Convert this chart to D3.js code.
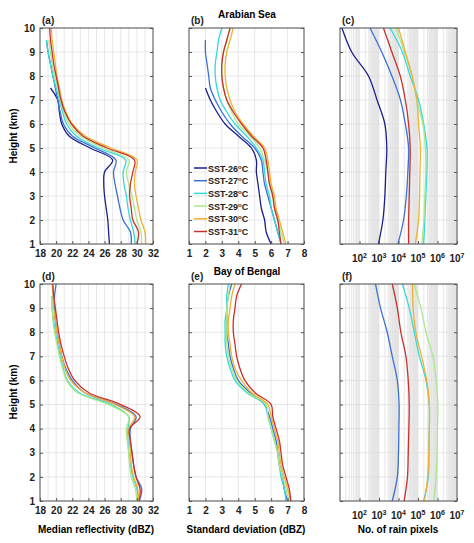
<!DOCTYPE html>
<html><head><meta charset="utf-8">
<script src="https://cdn.jsdelivr.net/npm/d3@7"></script>
<style>body{margin:0;background:#fff}text{font-family:Arial,"Liberation Sans",sans-serif;font-weight:bold}</style>
</head><body><div id="chart"></div>
<script>
var H = [1,1.5,2,2.5,3,3.5,4,4.5,5,5.5,6,6.5,7,7.5,8,8.5,9,9.5,10];
var Hn = [1,2,3,4,5,6,7,8,9,10];
var ssts = ['26','27','28','29','30','31'];
var colors = ['#1c1f8a','#3b70d4','#35d8d8','#a9e98c','#efb133','#c9302c'];

// Arabian Sea, median reflectivity (dBZ), at H (null = no data)
var asMed = [
  [26.6,26.5,26.4,26.2,26.0,25.9,26.0,27.0,24.2,21.6,20.7,20.4,20.2,19.3,null,null,null,null,null],
  [29.3,29.2,28.3,27.9,27.6,27.3,27.1,27.4,24.8,22.0,20.9,20.5,20.2,19.9,19.6,19.3,19.0,18.8,null],
  [29.8,29.6,29.2,28.9,28.7,28.4,28.3,28.6,25.2,22.5,21.3,20.8,20.4,20.0,19.6,19.3,19.0,18.8,null],
  [30.6,30.5,30.0,29.7,29.4,29.0,28.7,29.0,25.8,23.0,21.6,21.0,20.5,20.2,19.8,19.5,19.3,19.1,null],
  [31.1,31.0,30.5,30.2,29.9,29.7,29.8,30.0,26.8,23.6,22.0,21.2,20.7,20.4,20.1,19.9,19.7,19.5,19.4],
  [30.0,30.2,29.5,29.3,29.1,29.2,29.5,29.7,26.3,23.3,21.9,21.1,20.6,20.3,20.0,19.7,19.5,19.3,19.2]
];
var asStd = [
  [6.0,5.7,5.6,5.4,5.3,5.2,5.1,5.1,4.8,4.0,3.2,2.7,2.3,2.0,null,null,null,null,null],
  [6.6,6.4,6.2,6.0,5.8,5.6,5.5,5.4,5.0,4.2,3.5,3.0,2.6,2.3,2.2,2.1,2.0,2.0,null],
  [6.6,6.4,6.2,6.0,5.9,5.7,5.6,5.5,5.1,4.5,3.8,3.3,2.9,2.7,2.6,2.6,2.7,2.8,3.0],
  [6.8,6.6,6.4,6.2,6.1,5.9,5.8,5.6,5.3,4.7,4.0,3.6,3.3,3.1,3.0,3.0,3.1,3.3,3.5],
  [6.9,6.7,6.5,6.3,6.2,6.0,5.9,5.8,5.6,4.9,4.3,3.8,3.5,3.3,3.2,3.2,3.3,3.5,3.7],
  [6.6,6.5,6.4,6.2,6.1,5.9,5.8,5.7,5.5,4.8,4.2,3.7,3.3,3.1,3.0,3.0,3.1,3.3,3.5]
];
// log10(number of rain pixels) at Hn
var asLogN = [
  [2.97,3.2,3.3,3.35,3.4,3.3,2.9,2.46,1.6,1.1],
  [3.97,4.26,4.4,4.48,4.52,4.35,4.1,3.66,3.14,2.54],
  [5.29,5.35,5.4,5.45,5.46,5.29,5.03,4.6,4.2,3.57],
  [5.2,5.3,5.35,5.4,5.38,5.25,4.94,4.7,4.3,3.88],
  [4.86,5.03,5.08,5.1,5.12,5.03,4.94,4.7,4.35,4.0],
  [4.52,4.52,4.55,4.58,4.6,4.52,4.35,4.09,3.66,3.23]
];

// Bay of Bengal (no SST-26 curve)
var bbMed = [
  null,
  [30.3,30.6,29.9,29.6,29.4,29.2,29.2,29.9,27.5,23.5,22.0,21.2,20.7,20.4,20.1,19.9,19.8,19.8,20.0],
  [30.2,30.0,29.5,29.2,29.0,28.9,28.9,29.0,26.8,22.8,21.4,20.9,20.5,20.2,19.9,19.7,19.5,19.5,null],
  [30.0,29.8,29.3,29.1,29.0,28.8,28.7,29.0,26.5,22.6,21.3,20.8,20.4,20.1,19.8,19.6,19.5,19.4,null],
  [30.2,30.1,29.6,29.3,29.2,29.1,29.0,29.7,27.3,23.5,21.8,21.1,20.7,20.4,20.1,19.9,19.7,19.6,19.5],
  [30.3,30.4,29.9,29.6,29.4,29.2,29.1,30.4,28.0,24.0,22.3,21.5,21.0,20.6,20.3,20.1,19.9,19.7,19.6]
];
var bbStd = [
  null,
  [7.0,6.8,6.7,6.5,6.4,6.3,6.1,5.9,5.6,4.7,4.0,3.7,3.5,3.4,3.3,3.3,3.3,3.4,3.6],
  [6.9,6.8,6.6,6.5,6.4,6.2,6.0,5.8,5.6,4.5,3.8,3.5,3.3,3.2,3.2,3.2,3.3,3.3,3.4],
  [7.1,6.9,6.7,6.5,6.4,6.2,6.0,5.8,5.7,4.6,3.9,3.6,3.4,3.3,3.3,3.3,3.3,3.4,3.5],
  [7.2,7.0,6.8,6.6,6.5,6.4,6.2,6.0,5.8,4.8,4.2,3.8,3.6,3.5,3.4,3.4,3.5,3.6,3.8],
  [7.2,7.1,6.9,6.7,6.6,6.5,6.3,6.1,6.0,5.0,4.4,4.1,3.9,3.8,3.7,3.7,3.8,3.9,4.2]
];
var bbLogN = [
  null,
  [3.68,3.94,4.0,4.02,4.03,3.94,3.68,3.42,3.08,2.82],
  [5.29,5.53,5.56,5.58,5.58,5.41,5.07,4.81,4.55,4.2],
  [5.81,5.93,5.98,6.0,6.02,5.93,5.76,5.41,5.15,4.8],
  [5.33,5.5,5.55,5.58,5.58,5.45,5.18,4.89,4.75,4.72],
  [4.29,4.46,4.5,4.53,4.55,4.5,4.38,4.12,3.94,3.68]
];

var W = 474, Ht = 543;
var svg = d3.select('#chart').append('svg').attr('width', W).attr('height', Ht);

var cols = [{x0:40, x1:153}, {x0:189, x1:304}, {x0:340, x1:457}];
var rows = [{y0:28, y1:244}, {y0:284, y1:501}];

function panel(ci, ri, kind, data, hs, label) {
  var c = cols[ci], r = rows[ri];
  var y = d3.scaleLinear().domain([1,10]).range([r.y1, r.y0]);
  var x;
  if (kind == 'med') x = d3.scaleLinear().domain([18,32]).range([c.x0, c.x1]);
  else if (kind == 'std') x = d3.scaleLinear().domain([1,8]).range([c.x0, c.x1]);
  else x = d3.scaleLog().domain([10,1e7]).range([c.x0, c.x1]);
  var g = svg.append('g');

  // grey bands in the log panels (upper half of each decade)
  if (kind == 'log') {
    g.selectAll('.band').data([2,3,4,5,6]).enter().append('rect')
      .attr('x', d => x(Math.pow(10, d + 0.5))).attr('y', r.y0)
      .attr('width', d => x(Math.pow(10, d + 1)) - x(Math.pow(10, d + 0.5)))
      .attr('height', r.y1 - r.y0).attr('fill', '#efefef');
  }

  // grid
  var xg;
  if (kind == 'log') xg = x.ticks();
  else if (kind == 'med') xg = d3.range(18,33,1);
  else xg = d3.range(1,9,1);
  g.selectAll('.vg').data(xg).enter().append('line')
    .attr('x1', d => x(d)).attr('x2', d => x(d)).attr('y1', r.y0).attr('y2', r.y1)
    .attr('stroke', '#dcdcdc').attr('stroke-width', 0.7);
  g.selectAll('.hg').data(d3.range(1,11)).enter().append('line')
    .attr('x1', c.x0).attr('x2', c.x1).attr('y1', d => y(d)).attr('y2', d => y(d))
    .attr('stroke', '#dcdcdc').attr('stroke-width', 0.7);

  // curves
  var line = d3.line().defined(d => d[0] != null)
    .x(d => x(kind == 'log' ? Math.pow(10, d[0]) : d[0])).y(d => y(d[1]))
    .curve(d3.curveCatmullRom);
  data.forEach(function(s, i) {
    if (!s) return;
    g.append('path').datum(s.map((v, k) => [v, hs[k]]))
      .attr('d', line).attr('fill', 'none').attr('stroke', colors[i]).attr('stroke-width', 1.3);
  });

  // box + ticks
  g.append('rect').attr('x', c.x0).attr('y', r.y0).attr('width', c.x1 - c.x0).attr('height', r.y1 - r.y0)
    .attr('fill', 'none').attr('stroke', '#555').attr('stroke-width', 1);
  g.append('g').attr('transform', 'translate(' + c.x0 + ',0)')
    .call(d3.axisLeft(y).tickValues(d3.range(1,11)).tickSize(-3).tickPadding(5).tickFormat(ci == 0 ? d3.format('d') : ''));
  g.append('g').attr('transform', 'translate(' + c.x1 + ',0)')
    .call(d3.axisRight(y).tickValues(d3.range(1,11)).tickSize(-3).tickFormat(''));
  var xa;
  if (kind == 'log') {
    xa = d3.axisBottom(x).tickValues([1e2,1e3,1e4,1e5,1e6,1e7]).tickSize(-3).tickPadding(5).tickFormat('');
  } else {
    xa = d3.axisBottom(x).tickValues(kind == 'med' ? d3.range(18,33,2) : d3.range(1,9))
      .tickSize(-3).tickPadding(6).tickFormat(d3.format('d'));
  }
  g.append('g').attr('transform', 'translate(0,' + r.y1 + ')').call(xa);
  g.selectAll('.domain').remove();
  g.selectAll('.tick line').attr('stroke', '#555');
  g.selectAll('.tick text').attr('font-size', 10).attr('fill', '#222')
    .style('font-family', 'Arial,"Liberation Sans",sans-serif').style('font-weight', 'bold');
  if (kind == 'log') {
    [2,3,4,5,6,7].forEach(function(e) {
      var t = g.append('text').attr('x', x(Math.pow(10, e))).attr('y', r.y1 + 18)
        .attr('text-anchor', 'middle').attr('font-size', 10).attr('fill', '#222');
      t.append('tspan').text('10');
      t.append('tspan').attr('dy', -4).attr('font-size', 7).text(e);
    });
  }
  g.append('text').attr('x', c.x0 + 2).attr('y', r.y0 - 4).attr('font-size', 10).attr('fill', '#222').text(label);
}

panel(0,0,'med',asMed,H,'(a)');
panel(1,0,'std',asStd,H,'(b)');
panel(2,0,'log',asLogN,Hn,'(c)');
panel(0,1,'med',bbMed,H,'(d)');
panel(1,1,'std',bbStd,H,'(e)');
panel(2,1,'log',bbLogN,Hn,'(f)');

svg.append('text').attr('x', 247).attr('y', 18).attr('text-anchor', 'middle').attr('font-size', 10).text('Arabian Sea');
svg.append('text').attr('x', 247).attr('y', 275).attr('text-anchor', 'middle').attr('font-size', 10).text('Bay of Bengal');
[136, 392].forEach(function(cy) {
  svg.append('text').attr('transform', 'translate(17,' + cy + ') rotate(-90)')
    .attr('text-anchor', 'middle').attr('font-size', 10).text('Height (km)');
});
svg.append('text').attr('x', 96).attr('y', 533).attr('text-anchor', 'middle').attr('font-size', 10).text('Median reflectivity (dBZ)');
svg.append('text').attr('x', 246).attr('y', 533).attr('text-anchor', 'middle').attr('font-size', 10).text('Standard deviation (dBZ)');
svg.append('text').attr('x', 398).attr('y', 533).attr('text-anchor', 'middle').attr('font-size', 10).text('No. of rain pixels');

// legend in panel (b)
var lg = svg.append('g').attr('transform', 'translate(194,168)');
ssts.forEach(function(s, i) {
  var yy = i * 12.7;
  lg.append('line').attr('x1', 0).attr('x2', 13).attr('y1', yy).attr('y2', yy)
    .attr('stroke', colors[i]).attr('stroke-width', 1.5);
  var t = lg.append('text').attr('x', 14).attr('y', yy + 3.5).attr('font-size', 9).attr('fill', '#222');
  t.append('tspan').text('SST-' + s);
  t.append('tspan').attr('dy', -3).attr('font-size', 6).text('o');
  t.append('tspan').attr('dy', 3).text('C');
});
</script></body></html>
